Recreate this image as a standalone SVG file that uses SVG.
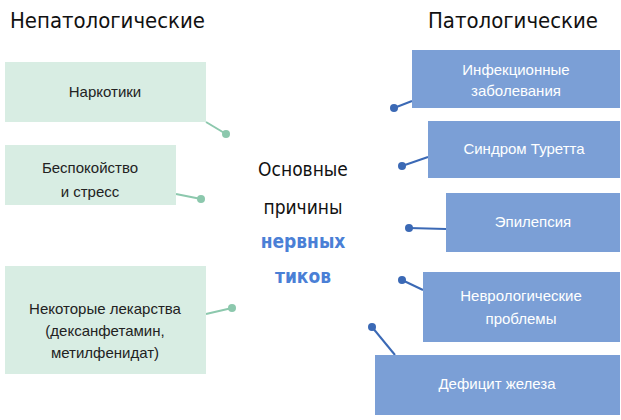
<svg xmlns="http://www.w3.org/2000/svg" width="621" height="420" viewBox="0 0 621 420">
<style>
.g{fill:#d8ede3}
.b{fill:#7b9fd6}
.gl{stroke:#8cc8ad;stroke-width:2;fill:none}
.gd{fill:#8cc8ad}
.bl{stroke:#3b69b5;stroke-width:2;fill:none}
.bd{fill:#3b69b5}
.t{font-family:"Liberation Sans",Arial,sans-serif;font-size:15px;text-anchor:middle;fill:#222}
.w{font-family:"Liberation Sans",Arial,sans-serif;font-size:15px;text-anchor:middle;fill:#fff}
.h{font-family:"DejaVu Sans Condensed","DejaVu Sans",sans-serif;font-size:21px;fill:#111}
.c{font-family:"DejaVu Sans Condensed","DejaVu Sans",sans-serif;font-size:19px;text-anchor:middle}
</style>
<rect width="621" height="420" fill="#fff"/>
<text class="h" x="10" y="28" textLength="195" lengthAdjust="spacingAndGlyphs">Непатологические</text>
<text class="h" x="428" y="28" textLength="170" lengthAdjust="spacingAndGlyphs">Патологические</text>
<g id="connectors">
<line class="gl" x1="206" y1="122" x2="226" y2="134"/><circle class="gd" cx="226" cy="134" r="4"/>
<line class="gl" x1="176" y1="194" x2="201" y2="199"/><circle class="gd" cx="201" cy="199" r="4"/>
<line class="gl" x1="206" y1="314" x2="232" y2="308"/><circle class="gd" cx="232" cy="308" r="4"/>
<line class="bl" x1="412" y1="101" x2="394" y2="108"/><circle class="bd" cx="394" cy="108" r="4"/>
<line class="bl" x1="428" y1="157" x2="402" y2="166"/><circle class="bd" cx="402" cy="166" r="4"/>
<line class="bl" x1="446" y1="229" x2="409" y2="228"/><circle class="bd" cx="409" cy="228" r="4"/>
<line class="bl" x1="423" y1="290" x2="402" y2="280"/><circle class="bd" cx="402" cy="280" r="4"/>
<line class="bl" x1="395" y1="355" x2="372" y2="327"/><circle class="bd" cx="372" cy="327" r="4"/>
</g>
<g id="n1"><rect class="g" x="5" y="62" width="201" height="60"/><text class="t" x="105" y="97">Наркотики</text></g>
<g id="n2"><rect class="g" x="5" y="145" width="171" height="60"/><text class="t" x="90" y="173">Беспокойство</text><text class="t" x="90" y="197">и стресс</text></g>
<g id="n3"><rect class="g" x="5" y="266" width="201" height="108"/><text class="t" x="105" y="314">Некоторые лекарства</text><text class="t" x="105" y="336">(дексанфетамин,</text><text class="t" x="105" y="358">метилфенидат)</text></g>
<g id="center">
<text class="c" x="303" y="176" fill="#111">Основные</text>
<text class="c" x="303" y="214" fill="#111">причины</text>
<text class="c" x="303" y="248" fill="#4a7fd6" font-weight="bold">нервных</text>
<text class="c" x="303" y="283" fill="#4a7fd6" font-weight="bold">тиков</text>
</g>
<g id="p1"><rect class="b" x="412" y="50" width="208" height="58"/><text class="w" x="516" y="75">Инфекционные</text><text class="w" x="516" y="96">заболевания</text></g>
<g id="p2"><rect class="b" x="428" y="121" width="192" height="57"/><text class="w" x="524" y="154">Синдром Туретта</text></g>
<g id="p3"><rect class="b" x="446" y="193" width="174" height="59"/><text class="w" x="533" y="227">Эпилепсия</text></g>
<g id="p4"><rect class="b" x="423" y="272" width="197" height="70"/><text class="w" x="521" y="301">Неврологические</text><text class="w" x="521" y="324">проблемы</text></g>
<g id="p5"><rect class="b" x="375" y="355" width="245" height="60"/><text class="w" x="497" y="389">Дефицит железа</text></g>
</svg>
